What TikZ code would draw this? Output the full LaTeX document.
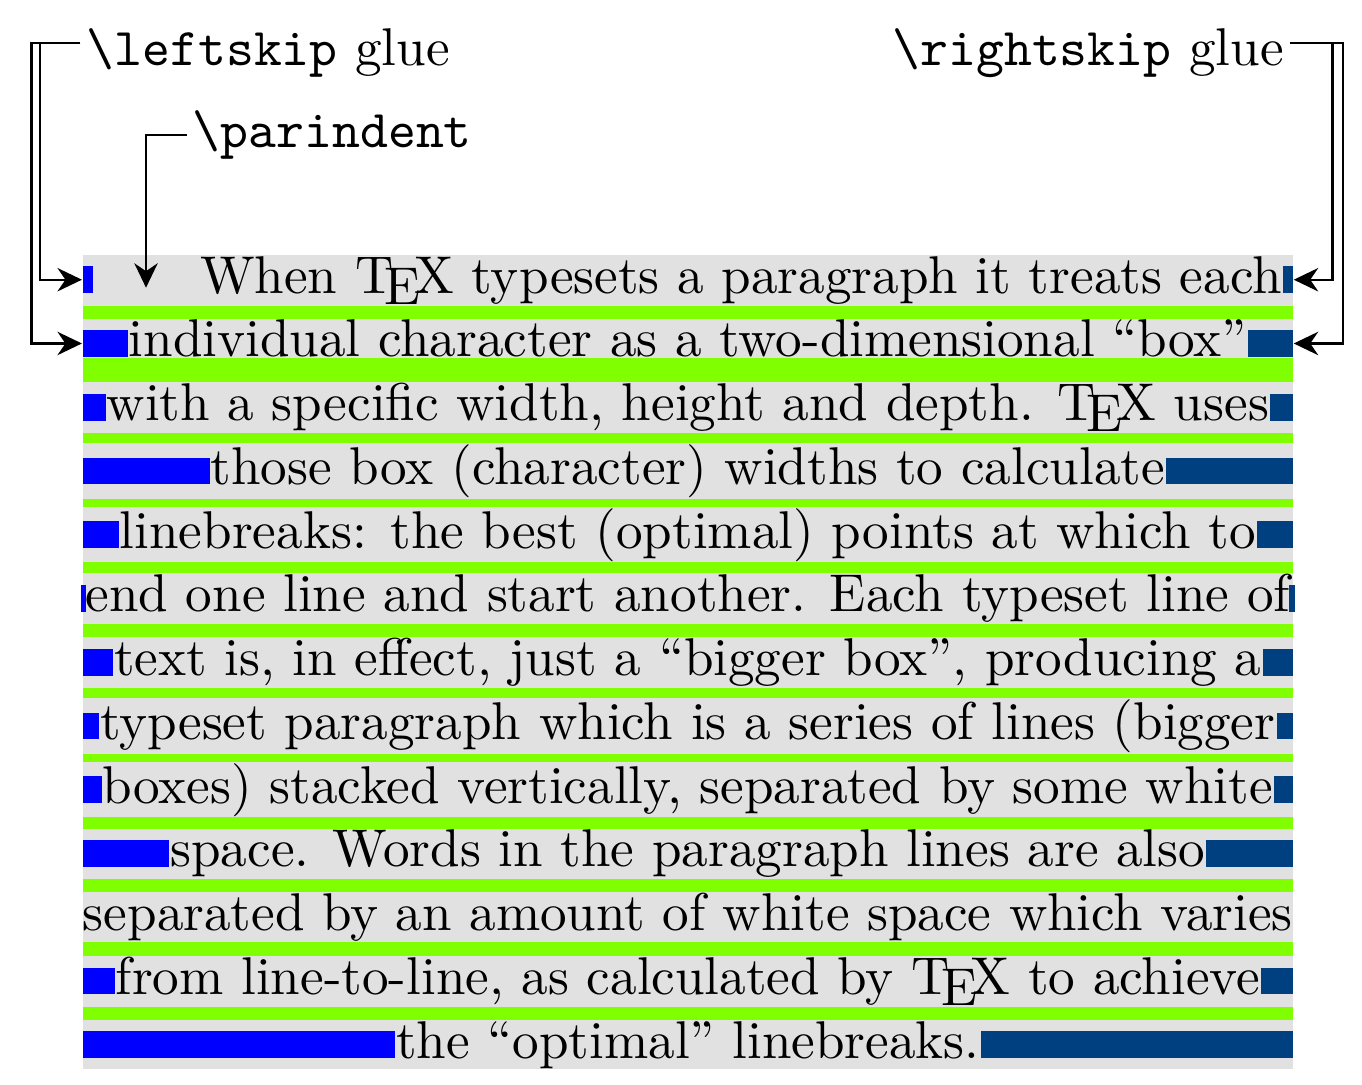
\documentclass[tikz,border=0pt]{standalone}
\usepackage{tikz}
\usetikzlibrary{arrows.meta,fit,backgrounds}
\definecolor{parbg}{RGB}{225,225,225}
\definecolor{gapgreen}{RGB}{128,255,0}
\definecolor{lskipblue}{RGB}{0,0,255}
\definecolor{rskipblue}{RGB}{0,64,128}
\newcommand{\linewd}{227.7pt}
\newcommand{\indentwd}{20pt}
\newcommand{\gluehgt}{5pt}

\begin{document}
\begin{tikzpicture}[
    txtline/.style={inner sep=0pt, anchor=base},
    gluetag/.style={inner sep=1pt},
    lglue/.style={fill=lskipblue, inner sep=0pt},
    rglue/.style={fill=rskipblue, inner sep=0pt},
    glueptr/.style={-{Stealth[length=4.6pt,width=4.4pt]}, line width=0.4pt}]
    \useasboundingbox (-15.62pt,-148.9pt) rectangle (240.75pt,55.15pt);
    \coordinate (pl) at (0,0);
    \coordinate (pr) at (\linewd,0);

    % the typeset lines, baselines 12pt apart
    \node[txtline] (t1) at ({(\linewd+\indentwd)/2},0) {When \TeX\ typesets a paragraph it treats each};
    \foreach \i/\txt in {
        2/{individual character as a two-dimensional “box”},
        3/{with a specific width, height and depth. \TeX\ uses},
        4/{those box (character) widths to calculate},
        5/{linebreaks: the best (optimal) points at which to},
        6/{end one line and start another. Each typeset line of},
        7/{text is, in effect, just a “bigger box”, producing a},
        8/{typeset paragraph which is a series of lines (bigger},
        9/{boxes) stacked vertically, separated by some white},
        10/{space. Words in the paragraph lines are also},
        11/{\makebox[\linewd][s]{separated by an amount of white space which varies}},
        12/{from line-to-line, as calculated by \TeX\ to achieve},
        13/{the “optimal” linebreaks.}}
        \node[txtline] (t\i) at ({\linewd/2},{-(\i-1)*12pt}) {\txt};

    \begin{scope}[on background layer]
    \fill[parbg] (pl |- t1.north) rectangle (pr |- t13.south);
    % baselineskip glue between the lines
    \foreach \i [count=\j from 2] in {1,...,12}
        \fill[gapgreen] (pl |- t\i.south) rectangle (pr |- t\j.north);
    % leftskip and rightskip glue
    \node[lglue, fit={(pl |- t1.base) ([xshift=-\indentwd, yshift=\gluehgt]t1.base west)}] (lg1) {};
    \foreach \i in {2,...,10,12,13}
        \node[lglue, fit={(pl |- t\i.base) ([yshift=\gluehgt]t\i.base west)}] (lg\i) {};
    \foreach \i in {1,...,10,12,13}
        \node[rglue, fit={([yshift=\gluehgt]t\i.base east) (pr |- t\i.base)}] (rg\i) {};
    \end{scope}

    % labels
    \node[gluetag, anchor=base west] (lskip) at (-0.5pt,42.9pt) {\texttt{\textbackslash leftskip} glue};
    \node[gluetag, anchor=base east] (rskip) at (227.2pt,42.9pt) {\texttt{\textbackslash rightskip} glue};
    \node[gluetag, anchor=base west] (pind) at (19.5pt,27.4pt) {\texttt{\textbackslash parindent}};
    \coordinate (indmid) at ([xshift=-\indentwd/2, yshift=1pt]t1.base west);

    \draw[glueptr] ([yshift=4.2pt]lskip.base west) -| ([xshift=-7.9pt]lg1.west) -- (lg1.west);
    \draw[glueptr] ([yshift=4.2pt]lskip.base west) -| ([xshift=-9.5pt]lg2.west) -- (lg2.west);
    \draw[glueptr] ([yshift=4.2pt]rskip.base east) -| ([xshift=7.3pt]rg1.east) -- (rg1.east);
    \draw[glueptr] ([yshift=4.2pt]rskip.base east) -| ([xshift=9.2pt]rg2.east) -- (rg2.east);
    \draw[glueptr] ([yshift=2.3pt]pind.base west) -| (indmid);
\end{tikzpicture}
\end{document}
